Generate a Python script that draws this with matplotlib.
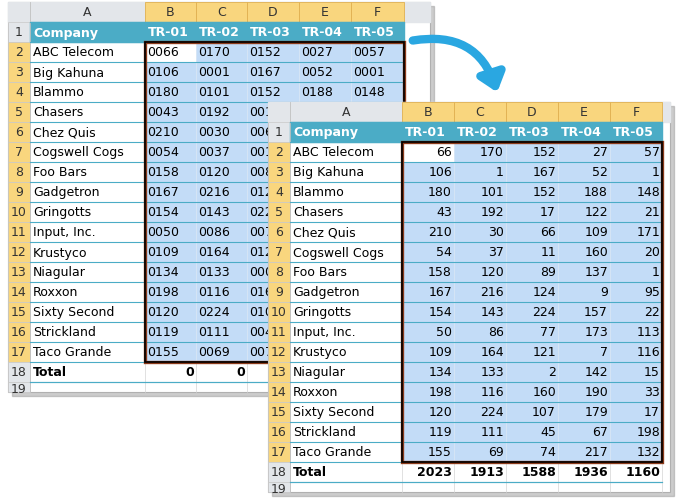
import matplotlib.pyplot as plt
from matplotlib.patches import Rectangle, FancyArrowPatch

companies = ['ABC Telecom', 'Big Kahuna', 'Blammo', 'Chasers', 'Chez Quis',
             'Cogswell Cogs', 'Foo Bars', 'Gadgetron', 'Gringotts', 'Input, Inc.',
             'Krustyco', 'Niagular', 'Roxxon', 'Sixty Second', 'Strickland',
             'Taco Grande']
columns = ['TR-01', 'TR-02', 'TR-03', 'TR-04', 'TR-05']
tr01 = [66, 106, 180, 43, 210, 54, 158, 167, 154, 50, 109, 134, 198, 120, 119, 155]
tr02 = [170, 1, 101, 192, 30, 37, 120, 216, 143, 86, 164, 133, 116, 224, 111, 69]
tr03 = [152, 167, 152, 17, 66, 11, 89, 124, 224, 77, 121, 2, 160, 107, 45, 74]
tr04 = [27, 52, 188, 122, 109, 160, 137, 9, 157, 173, 7, 142, 190, 179, 67, 217]
tr05 = [57, 1, 148, 21, 171, 20, 1, 95, 22, 113, 116, 15, 33, 17, 198, 132]
series = [tr01, tr02, tr03, tr04, tr05]
col_letters = ['A', 'B', 'C', 'D', 'E', 'F']

TEAL = '#4BACC6'
SEL = '#C3DCF7'
HDR_SEL = '#F9D67E'
HDR = '#E3E6EA'
GRID = '#D4D4D4'

fig = plt.figure(figsize=(6.8, 5.02), dpi=100)
ax = fig.add_axes([0, 0, 1, 1])
ax.set_xlim(0, 680)
ax.set_ylim(502, 0)
ax.axis('off')


def draw_sheet(x0, y0, colw, rh, text_fn, totals, z, right_pad):
    rn_w, a_w = colw[0], colw[1]
    xs = [x0]
    for w in colw:
        xs.append(xs[-1] + w)
    right = xs[-1] + right_pad
    bottom = y0 + 19 * rh + 10
    # shadow + background
    ax.add_patch(Rectangle((x0 + 4, y0 + 4), right - x0, bottom - y0,
                           color='#9A9A9A', alpha=0.5, zorder=z))
    ax.add_patch(Rectangle((x0, y0), right - x0, bottom - y0,
                           facecolor='white', edgecolor='#B0B0B0', lw=0.8, zorder=z + 0.1))
    # column header row
    ax.add_patch(Rectangle((x0, y0), right - x0, rh, color=HDR, zorder=z + 0.2))
    for i, letter in enumerate(col_letters):
        cx0, cx1 = xs[i + 1], xs[i + 2]
        if i > 0:
            ax.add_patch(Rectangle((cx0, y0), cx1 - cx0, rh, facecolor=HDR_SEL,
                                   edgecolor='#E0B050', lw=0.6, zorder=z + 0.3))
        ax.text((cx0 + cx1) / 2, y0 + rh / 2, letter, ha='center', va='center',
                fontsize=9, color='#333333', zorder=z + 0.5)
    ax.plot([x0 + rn_w] * 2, [y0, bottom], color='#C0C0C0', lw=0.6, zorder=z + 0.4)
    # rows
    for r in range(1, 20):
        ry = y0 + r * rh
        h = rh if r < 19 else 10
        fc = HDR_SEL if 2 <= r <= 17 else HDR
        ax.add_patch(Rectangle((x0, ry), rn_w, h, facecolor=fc,
                               edgecolor='#C8C8C8', lw=0.5, zorder=z + 0.3))
        ax.text(x0 + rn_w / 2, ry + h / 2 + (0 if r < 19 else 2), str(r),
                ha='center', va='center', fontsize=9, color='#333333', zorder=z + 0.5,
                clip_on=True)
        if r == 1:
            ax.add_patch(Rectangle((xs[1], ry), xs[-1] - xs[1], rh, color=TEAL,
                                   zorder=z + 0.3))
            ax.text(xs[1] + 3, ry + rh / 2, 'Company', ha='left', va='center',
                    fontsize=9, fontweight='bold', color='white', zorder=z + 0.5)
            for j, c in enumerate(columns):
                ax.text(xs[j + 2] + 3, ry + rh / 2, c, ha='left', va='center',
                        fontsize=9, fontweight='bold', color='white', zorder=z + 0.5)
        elif 2 <= r <= 17:
            k = r - 2
            ax.text(xs[1] + 3, ry + rh / 2, companies[k], ha='left', va='center',
                    fontsize=9, color='black', zorder=z + 0.5)
            for j, s in enumerate(series):
                cx0, cx1 = xs[j + 2], xs[j + 3]
                fc = 'white' if (k == 0 and j == 0) else SEL
                ax.add_patch(Rectangle((cx0, ry), cx1 - cx0, rh, facecolor=fc,
                                       edgecolor='#D8E6F5', lw=0.5, zorder=z + 0.3))
                txt, ha = text_fn(s[k])
                tx = cx0 + 2 if ha == 'left' else cx1 - 2
                ax.text(tx, ry + rh / 2, txt, ha=ha, va='center', fontsize=9,
                        color='black', zorder=z + 0.5)
        elif r == 18:
            ax.text(xs[1] + 3, ry + rh / 2, 'Total', ha='left', va='center',
                    fontsize=9, fontweight='bold', color='black', zorder=z + 0.5)
            for j, t in enumerate(totals):
                if t is None:
                    continue
                ax.text(xs[j + 3] - 2, ry + rh / 2, str(t), ha='right', va='center',
                        fontsize=9, fontweight='bold', color='black', zorder=z + 0.5)
            for j in range(6):
                ax.plot([xs[j + 2]] * 2, [ry, ry + rh + 10], color=GRID, lw=0.5,
                        zorder=z + 0.4)
        # teal row lines
        if r >= 1:
            ax.plot([xs[1], xs[-1]], [ry + h, ry + h] if r < 19 else [ry, ry],
                    color=TEAL, lw=0.8, zorder=z + 0.45)
    ax.plot([xs[1], xs[-1]], [y0 + rh] * 2, color=TEAL, lw=0.8, zorder=z + 0.45)
    # selection border
    sy0, sy1 = y0 + 2 * rh, y0 + 18 * rh
    ax.add_patch(Rectangle((xs[2], sy0), xs[-1] - xs[2], sy1 - sy0, fill=False,
                           edgecolor='#8B3A1A', lw=2.4, zorder=z + 0.6))
    ax.add_patch(Rectangle((xs[2], sy0), xs[-1] - xs[2], sy1 - sy0, fill=False,
                           edgecolor='black', lw=1.2, zorder=z + 0.7))


# back sheet: numbers stored as zero-padded text
draw_sheet(8, 3, [22, 115, 51, 51, 52, 52, 53], 20,
           lambda v: (f'{v:04d}', 'left'), [0, 0, None, None, None], 1, 26)

# front sheet: real numbers with totals
draw_sheet(268, 103, [22, 112, 52, 52, 52, 52, 52], 20,
           lambda v: (str(v), 'right'), [sum(s) for s in series], 5, 8)

arrow = FancyArrowPatch((410, 42), (498, 96), connectionstyle='arc3,rad=-0.45',
                        arrowstyle='-|>,head_length=10,head_width=8',
                        color='#2AA7E1', lw=6, zorder=4)
ax.add_patch(arrow)

fig.savefig('out.png', dpi=100)
